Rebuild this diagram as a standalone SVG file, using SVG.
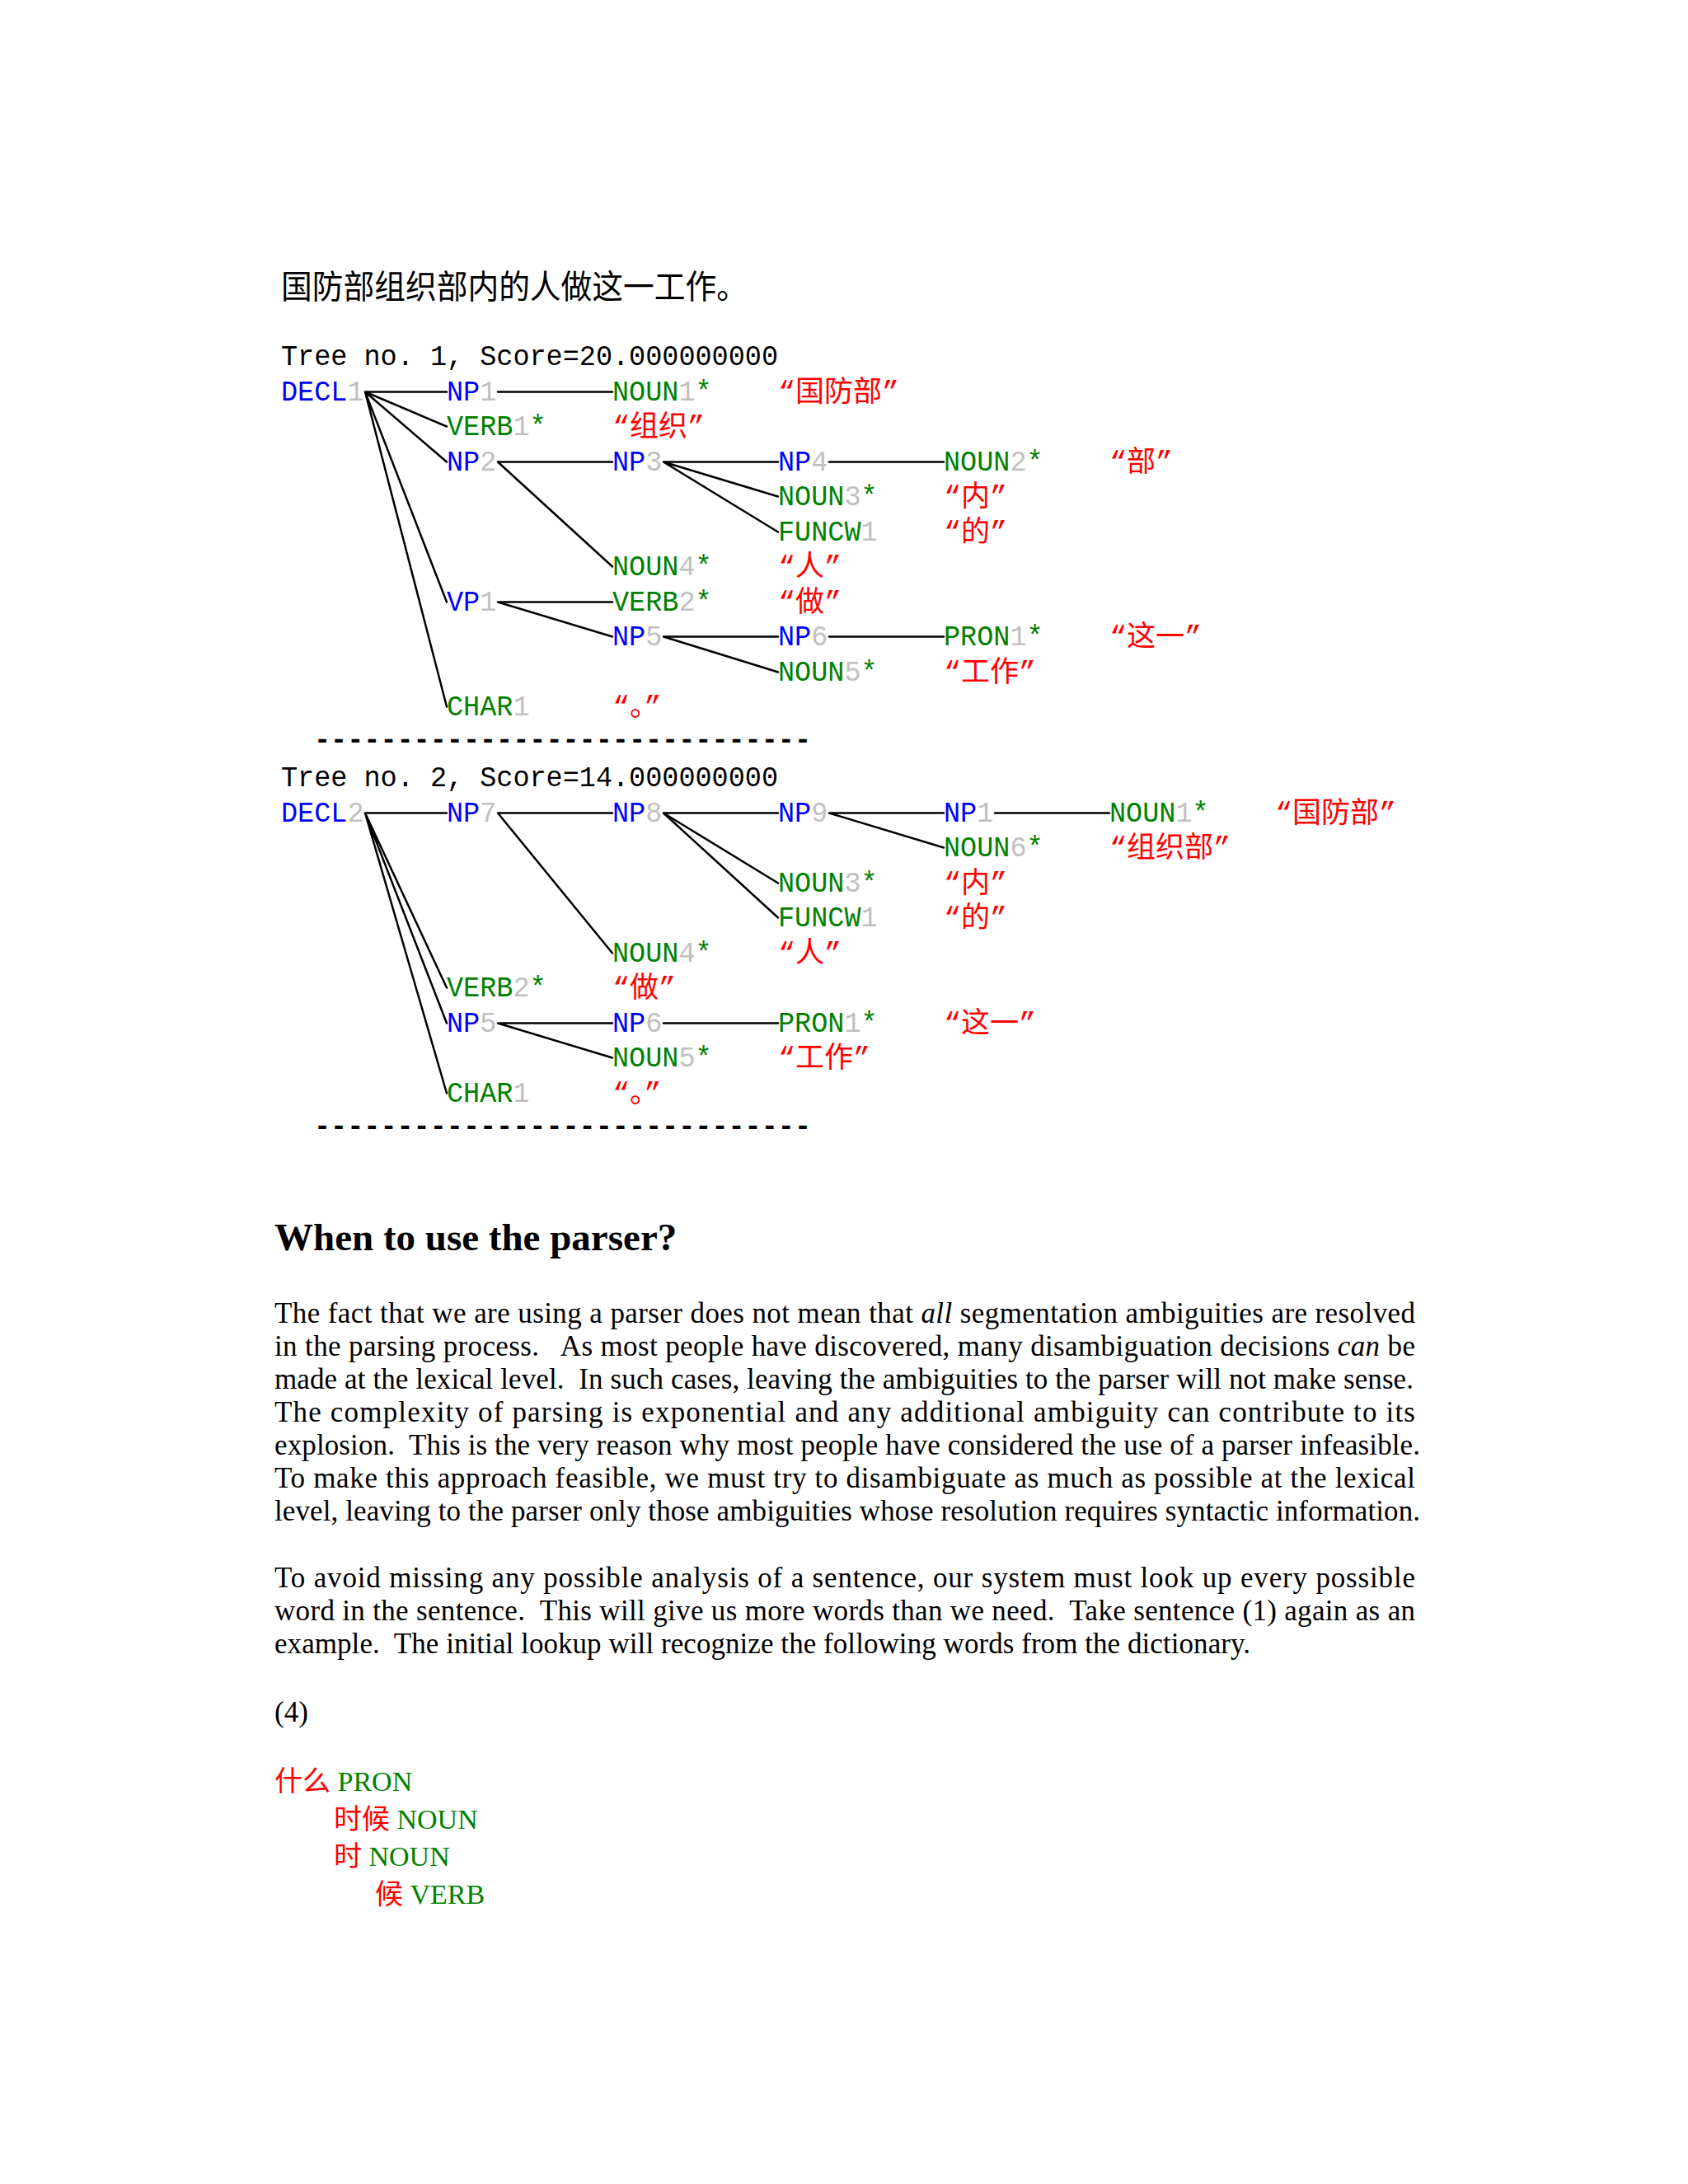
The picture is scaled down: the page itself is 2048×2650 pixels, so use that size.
<svg xmlns="http://www.w3.org/2000/svg" width="2048" height="2650" viewBox="0 0 2048 2650">
<style>
.m{font-family:"Liberation Mono",monospace;font-size:35px;fill:#000}
.bl{fill:#0000ff}.gr{fill:#008000}.dg{fill:#c0c0c0}
.q{font-family:"Liberation Mono","Noto Sans CJK SC",monospace;font-size:35px;fill:#ff0000}
.e{stroke:#000;stroke-width:2.5;fill:none;stroke-linecap:round}
.p{font-family:"Liberation Serif",serif;font-size:35px;fill:#000}
.l{font-family:"Liberation Serif","Noto Sans CJK SC",serif;font-size:34px}
.it{font-style:italic}
</style>
<rect width="2048" height="2650" fill="#fff"/>
<text x="341" y="362" font-family="'Noto Sans CJK SC',sans-serif" font-size="40" fill="#000" textLength="566" lengthAdjust="spacingAndGlyphs">国防部组织部内的人做这一工作。</text>

<!-- Tree 1 -->
<text class="m" x="341" y="443" textLength="603" lengthAdjust="spacingAndGlyphs">Tree no. 1, Score=20.000000000</text>
<g id="connectors-tree1">
<path class="e" d="M443 475.5H542M443 475.5L542 517.5M443 475.5L542 560.5M443 475.5L542 730.5M443 475.5L542 857.5"/>
<path class="e" d="M604 475.5H743"/>
<path class="e" d="M604 560.5H743M604 560.5L743 687.5"/>
<path class="e" d="M805 560.5H944M805 560.5L944 602.5M805 560.5L944 645.5"/>
<path class="e" d="M1006 560.5H1145"/>
<path class="e" d="M604 730.5H743M604 730.5L743 772.5"/>
<path class="e" d="M805 772.5H944M805 772.5L944 815.5"/>
<path class="e" d="M1006 772.5H1145"/>
</g>
<g id="t1-DECL1"><text class="m" x="341" y="486" textLength="100.5" lengthAdjust="spacingAndGlyphs"><tspan class="bl">DECL</tspan><tspan class="dg">1</tspan></text></g>
<g id="t1-NP1"><text class="m" x="542" y="486" textLength="60.3" lengthAdjust="spacingAndGlyphs"><tspan class="bl">NP</tspan><tspan class="dg">1</tspan></text></g>
<g id="t1-NOUN1"><text class="m" x="743" y="486" textLength="120.6" lengthAdjust="spacingAndGlyphs"><tspan class="gr">NOUN</tspan><tspan class="dg">1</tspan><tspan class="gr">*</tspan></text><text class="q" x="944" y="487">“国防部”</text></g>
<g id="t1-VERB1"><text class="m" x="542" y="528" textLength="120.6" lengthAdjust="spacingAndGlyphs"><tspan class="gr">VERB</tspan><tspan class="dg">1</tspan><tspan class="gr">*</tspan></text><text class="q" x="743" y="529">“组织”</text></g>
<g id="t1-NP2"><text class="m" x="542" y="571" textLength="60.3" lengthAdjust="spacingAndGlyphs"><tspan class="bl">NP</tspan><tspan class="dg">2</tspan></text></g>
<g id="t1-NP3"><text class="m" x="743" y="571" textLength="60.3" lengthAdjust="spacingAndGlyphs"><tspan class="bl">NP</tspan><tspan class="dg">3</tspan></text></g>
<g id="t1-NP4"><text class="m" x="944" y="571" textLength="60.3" lengthAdjust="spacingAndGlyphs"><tspan class="bl">NP</tspan><tspan class="dg">4</tspan></text></g>
<g id="t1-NOUN2"><text class="m" x="1145" y="571" textLength="120.6" lengthAdjust="spacingAndGlyphs"><tspan class="gr">NOUN</tspan><tspan class="dg">2</tspan><tspan class="gr">*</tspan></text><text class="q" x="1346" y="572">“部”</text></g>
<g id="t1-NOUN3"><text class="m" x="944" y="613" textLength="120.6" lengthAdjust="spacingAndGlyphs"><tspan class="gr">NOUN</tspan><tspan class="dg">3</tspan><tspan class="gr">*</tspan></text><text class="q" x="1145" y="614">“内”</text></g>
<g id="t1-FUNCW1"><text class="m" x="944" y="656" textLength="120.6" lengthAdjust="spacingAndGlyphs"><tspan class="gr">FUNCW</tspan><tspan class="dg">1</tspan></text><text class="q" x="1145" y="657">“的”</text></g>
<g id="t1-NOUN4"><text class="m" x="743" y="698" textLength="120.6" lengthAdjust="spacingAndGlyphs"><tspan class="gr">NOUN</tspan><tspan class="dg">4</tspan><tspan class="gr">*</tspan></text><text class="q" x="944" y="699">“人”</text></g>
<g id="t1-VP1"><text class="m" x="542" y="741" textLength="60.3" lengthAdjust="spacingAndGlyphs"><tspan class="bl">VP</tspan><tspan class="dg">1</tspan></text></g>
<g id="t1-VERB2"><text class="m" x="743" y="741" textLength="120.6" lengthAdjust="spacingAndGlyphs"><tspan class="gr">VERB</tspan><tspan class="dg">2</tspan><tspan class="gr">*</tspan></text><text class="q" x="944" y="742">“做”</text></g>
<g id="t1-NP5"><text class="m" x="743" y="783" textLength="60.3" lengthAdjust="spacingAndGlyphs"><tspan class="bl">NP</tspan><tspan class="dg">5</tspan></text></g>
<g id="t1-NP6"><text class="m" x="944" y="783" textLength="60.3" lengthAdjust="spacingAndGlyphs"><tspan class="bl">NP</tspan><tspan class="dg">6</tspan></text></g>
<g id="t1-PRON1"><text class="m" x="1145" y="783" textLength="120.6" lengthAdjust="spacingAndGlyphs"><tspan class="gr">PRON</tspan><tspan class="dg">1</tspan><tspan class="gr">*</tspan></text><text class="q" x="1346" y="784">“这一”</text></g>
<g id="t1-NOUN5"><text class="m" x="944" y="826" textLength="120.6" lengthAdjust="spacingAndGlyphs"><tspan class="gr">NOUN</tspan><tspan class="dg">5</tspan><tspan class="gr">*</tspan></text><text class="q" x="1145" y="827">“工作”</text></g>
<g id="t1-CHAR1"><text class="m" x="542" y="868" textLength="100.5" lengthAdjust="spacingAndGlyphs"><tspan class="gr">CHAR</tspan><tspan class="dg">1</tspan></text><text class="q" x="743" y="869">“。”</text></g>
<text class="m" x="381" y="908" textLength="603" lengthAdjust="spacingAndGlyphs" font-weight="bold">------------------------------</text>

<!-- Tree 2 -->
<text class="m" x="341" y="954" textLength="603" lengthAdjust="spacingAndGlyphs">Tree no. 2, Score=14.000000000</text>
<g id="connectors-tree2">
<path class="e" d="M443 986.5H542M443 986.5L542 1198.5M443 986.5L542 1241.5M443 986.5L542 1326.5"/>
<path class="e" d="M604 986.5H743M604 986.5L743 1156.5"/>
<path class="e" d="M805 986.5H944M805 986.5L944 1071.5M805 986.5L944 1113.5"/>
<path class="e" d="M1006 986.5H1145M1006 986.5L1145 1028.5"/>
<path class="e" d="M1207 986.5H1346"/>
<path class="e" d="M604 1241.5H743M604 1241.5L743 1283.5"/>
<path class="e" d="M805 1241.5H944"/>
</g>
<g id="t2-DECL2"><text class="m" x="341" y="997" textLength="100.5" lengthAdjust="spacingAndGlyphs"><tspan class="bl">DECL</tspan><tspan class="dg">2</tspan></text></g>
<g id="t2-NP7"><text class="m" x="542" y="997" textLength="60.3" lengthAdjust="spacingAndGlyphs"><tspan class="bl">NP</tspan><tspan class="dg">7</tspan></text></g>
<g id="t2-NP8"><text class="m" x="743" y="997" textLength="60.3" lengthAdjust="spacingAndGlyphs"><tspan class="bl">NP</tspan><tspan class="dg">8</tspan></text></g>
<g id="t2-NP9"><text class="m" x="944" y="997" textLength="60.3" lengthAdjust="spacingAndGlyphs"><tspan class="bl">NP</tspan><tspan class="dg">9</tspan></text></g>
<g id="t2-NP1"><text class="m" x="1145" y="997" textLength="60.3" lengthAdjust="spacingAndGlyphs"><tspan class="bl">NP</tspan><tspan class="dg">1</tspan></text></g>
<g id="t2-NOUN1"><text class="m" x="1346" y="997" textLength="120.6" lengthAdjust="spacingAndGlyphs"><tspan class="gr">NOUN</tspan><tspan class="dg">1</tspan><tspan class="gr">*</tspan></text><text class="q" x="1547" y="998">“国防部”</text></g>
<g id="t2-NOUN6"><text class="m" x="1145" y="1039" textLength="120.6" lengthAdjust="spacingAndGlyphs"><tspan class="gr">NOUN</tspan><tspan class="dg">6</tspan><tspan class="gr">*</tspan></text><text class="q" x="1346" y="1040">“组织部”</text></g>
<g id="t2-NOUN3"><text class="m" x="944" y="1082" textLength="120.6" lengthAdjust="spacingAndGlyphs"><tspan class="gr">NOUN</tspan><tspan class="dg">3</tspan><tspan class="gr">*</tspan></text><text class="q" x="1145" y="1083">“内”</text></g>
<g id="t2-FUNCW1"><text class="m" x="944" y="1124" textLength="120.6" lengthAdjust="spacingAndGlyphs"><tspan class="gr">FUNCW</tspan><tspan class="dg">1</tspan></text><text class="q" x="1145" y="1125">“的”</text></g>
<g id="t2-NOUN4"><text class="m" x="743" y="1167" textLength="120.6" lengthAdjust="spacingAndGlyphs"><tspan class="gr">NOUN</tspan><tspan class="dg">4</tspan><tspan class="gr">*</tspan></text><text class="q" x="944" y="1168">“人”</text></g>
<g id="t2-VERB2"><text class="m" x="542" y="1209" textLength="120.6" lengthAdjust="spacingAndGlyphs"><tspan class="gr">VERB</tspan><tspan class="dg">2</tspan><tspan class="gr">*</tspan></text><text class="q" x="743" y="1210">“做”</text></g>
<g id="t2-NP5"><text class="m" x="542" y="1252" textLength="60.3" lengthAdjust="spacingAndGlyphs"><tspan class="bl">NP</tspan><tspan class="dg">5</tspan></text></g>
<g id="t2-NP6"><text class="m" x="743" y="1252" textLength="60.3" lengthAdjust="spacingAndGlyphs"><tspan class="bl">NP</tspan><tspan class="dg">6</tspan></text></g>
<g id="t2-PRON1"><text class="m" x="944" y="1252" textLength="120.6" lengthAdjust="spacingAndGlyphs"><tspan class="gr">PRON</tspan><tspan class="dg">1</tspan><tspan class="gr">*</tspan></text><text class="q" x="1145" y="1253">“这一”</text></g>
<g id="t2-NOUN5"><text class="m" x="743" y="1294" textLength="120.6" lengthAdjust="spacingAndGlyphs"><tspan class="gr">NOUN</tspan><tspan class="dg">5</tspan><tspan class="gr">*</tspan></text><text class="q" x="944" y="1295">“工作”</text></g>
<g id="t2-CHAR1"><text class="m" x="542" y="1337" textLength="100.5" lengthAdjust="spacingAndGlyphs"><tspan class="gr">CHAR</tspan><tspan class="dg">1</tspan></text><text class="q" x="743" y="1338">“。”</text></g>
<text class="m" x="381" y="1377" textLength="603" lengthAdjust="spacingAndGlyphs" font-weight="bold">------------------------------</text>

<!-- Body text -->
<text x="333" y="1517" font-family="'Liberation Serif',serif" font-size="47" font-weight="bold" fill="#000">When to use the parser?</text>
<g class="p">
<text class="p" x="333" y="1605" textLength="1384" xml:space="preserve">The fact that we are using a parser does not mean that <tspan class="it">all</tspan> segmentation ambiguities are resolved</text>
<text class="p" x="333" y="1645" textLength="1384" xml:space="preserve">in the parsing process.   As most people have discovered, many disambiguation decisions <tspan class="it">can</tspan> be</text>
<text class="p" x="333" y="1685" textLength="1382" xml:space="preserve">made at the lexical level.  In such cases, leaving the ambiguities to the parser will not make sense.</text>
<text class="p" x="333" y="1725" textLength="1384" xml:space="preserve">The complexity of parsing is exponential and any additional ambiguity can contribute to its</text>
<text class="p" x="333" y="1765" textLength="1390" xml:space="preserve">explosion.  This is the very reason why most people have considered the use of a parser infeasible.</text>
<text class="p" x="333" y="1805" textLength="1384" xml:space="preserve">To make this approach feasible, we must try to disambiguate as much as possible at the lexical</text>
<text class="p" x="333" y="1845" textLength="1390" xml:space="preserve">level, leaving to the parser only those ambiguities whose resolution requires syntactic information.</text>
<text class="p" x="333" y="1926" textLength="1384" xml:space="preserve">To avoid missing any possible analysis of a sentence, our system must look up every possible</text>
<text class="p" x="333" y="1966" textLength="1384" xml:space="preserve">word in the sentence.  This will give us more words than we need.  Take sentence (1) again as an</text>
<text class="p" x="333" y="2006" textLength="1184" xml:space="preserve">example.  The initial lookup will recognize the following words from the dictionary.</text>
<text class="p" x="333" y="2089">(4)</text>
</g>
<g id="word-list">
<text class="l" x="333" y="2173"><tspan fill="#ff0000">什么</tspan><tspan fill="#008000"> PRON</tspan></text>
<text class="l" x="405" y="2219"><tspan fill="#ff0000">时候</tspan><tspan fill="#008000"> NOUN</tspan></text>
<text class="l" x="405" y="2264"><tspan fill="#ff0000">时</tspan><tspan fill="#008000"> NOUN</tspan></text>
<text class="l" x="455" y="2310"><tspan fill="#ff0000">候</tspan><tspan fill="#008000"> VERB</tspan></text>
</g>
</svg>
